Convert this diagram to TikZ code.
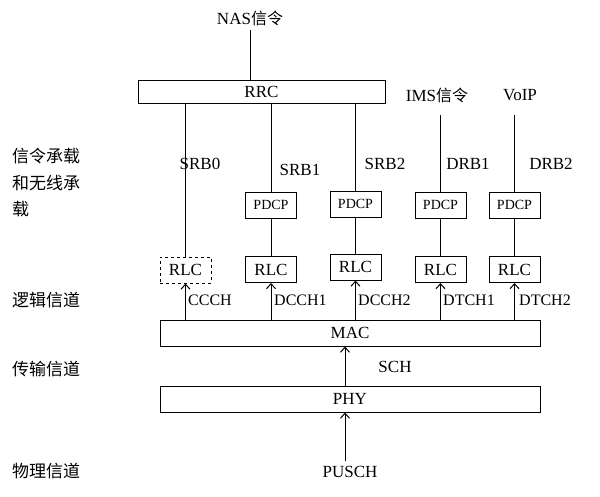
\documentclass[tikz,border=0pt]{standalone}
\usepackage{fontspec}
\usetikzlibrary{arrows.meta}
\setmainfont{Liberation Serif}
\newfontfamily\cjk{Noto Sans CJK SC}
\begin{document}
\begin{tikzpicture}[x=1pt,y=-1pt,font=\fontsize{17}{19}\selectfont,
 bx/.style={draw,line width=1pt,inner sep=0pt},
 ln/.style={line width=1pt},
 ar/.style={line width=1pt,-{Straight Barb[length=5pt,width=9pt]}},
 lb/.style={inner sep=0pt},
 cl/.style={inner sep=0pt,anchor=west,font=\fontsize{16}{18}\selectfont}]
\useasboundingbox (0,0) rectangle (600,496);
\node[bx,minimum width=247,minimum height=23] (rrc) at (261.5,91.5) {RRC};
\node[lb] (nas) at (250,18) {NAS{\cjk\fontsize{16}{18}\selectfont 信令}};
\draw[ln] (250,30) -- (rrc.north -| 250,0);
\node[lb] (ims) at (437,95) {IMS{\cjk\fontsize{16}{18}\selectfont 信令}};
\node[lb] (voip) at (520,95) {VoIP};
\foreach \n/\x/\y in {p1/271/205,p2/355.5/204,p3/440.5/205,p4/514.5/205}
  \node[bx,minimum width=51,minimum height=26,font=\fontsize{14}{16}\selectfont] (\n) at (\x,\y) {PDCP};
\node[bx,dashed,minimum width=51,minimum height=26] (r0) at (185.5,270) {RLC};
\foreach \n/\x/\y in {r1/271/269.5,r2/355.5/267,r3/440.5/269.5,r4/514.5/269.5}
  \node[bx,minimum width=51,minimum height=26] (\n) at (\x,\y) {RLC};
\node[bx,minimum width=380,minimum height=26] (mac) at (350,333) {MAC};
\node[bx,minimum width=380,minimum height=26] (phy) at (350,399) {PHY};
\draw[ln] (rrc.south -| r0.north) -- (r0.north);
\draw[ln] (rrc.south -| p1.north) -- (p1.north);
\draw[ln] (rrc.south -| p2.north) -- (p2.north);
\draw[ln] (p3.north |- 0,115) -- (p3.north);
\draw[ln] (p4.north |- 0,115) -- (p4.north);
\foreach \a/\b in {p1/r1,p2/r2,p3/r3,p4/r4} \draw[ln] (\a) -- (\b);
\foreach \r in {r0,r1,r2,r3,r4} \draw[ar] (mac.north -| \r) -- (\r.south);
\draw[ar] (phy.north -| 345,0) -- (mac.south -| 345,0);
\node[lb] (pusch) at (350,472) {PUSCH};
\draw[ar] (345,461) -- (phy.south -| 345,0);
\node[lb] at (200,164) {SRB0};
\node[lb] at (300,170) {SRB1};
\node[lb] at (385,164) {SRB2};
\node[lb] at (468,164) {DRB1};
\node[lb] at (551,164) {DRB2};
\node[cl] at (188,300) {CCCH};
\node[cl] at (274,300) {DCCH1};
\node[cl] at (358,300) {DCCH2};
\node[cl] at (443,300) {DTCH1};
\node[cl] at (519,300) {DTCH2};
\node[lb] at (395,367) {SCH};
\begin{scope}[font=\cjk\fontsize{17}{20}\selectfont]
\node[lb,anchor=west] at (12,156) {信令承载};
\node[lb,anchor=west] at (12,183) {和无线承};
\node[lb,anchor=west] at (12,209) {载};
\node[lb,anchor=west] at (12,300) {逻辑信道};
\node[lb,anchor=west] at (12,369) {传输信道};
\node[lb,anchor=west] at (12,471) {物理信道};
\end{scope}
\end{tikzpicture}
\end{document}
